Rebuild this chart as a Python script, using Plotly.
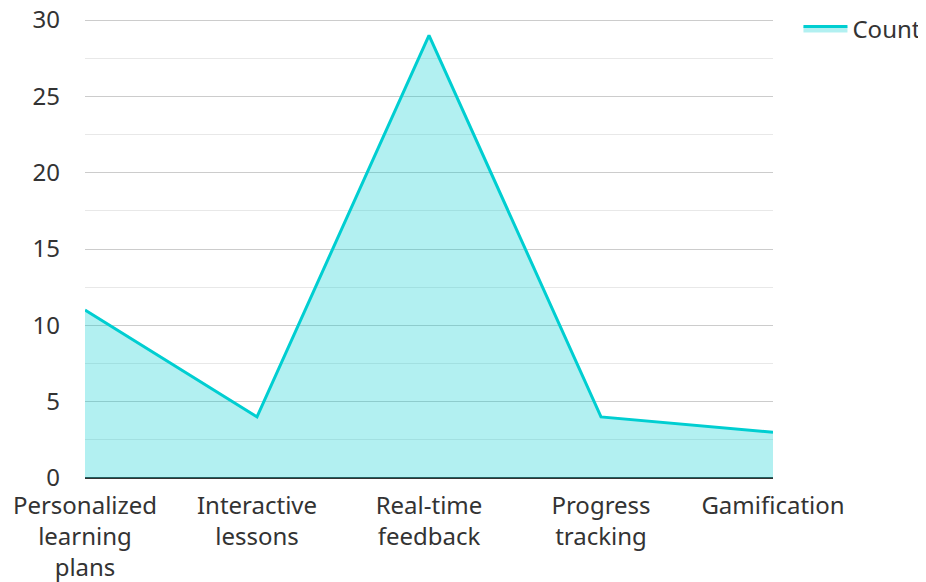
import plotly.graph_objects as go

categories = ["Personalized<br>learning<br>plans", "Interactive<br>lessons", "Real-time<br>feedback", "Progress<br>tracking", "Gamification"]
counts = [11, 4, 29, 4, 3]
series_name = "Count"
y_ticks = [0, 5, 10, 15, 20, 25, 30]

fig = go.Figure()
fig.add_trace(go.Scatter(
    x=categories, y=counts, name=series_name, mode="lines",
    line=dict(color="#00CED1", width=3),
    fill="tozeroy", fillcolor="rgba(0,206,209,0.3)",
))

fig.update_layout(
    width=926, height=574,
    margin=dict(l=77, r=161, t=10, b=104, autoexpand=False),
    plot_bgcolor="white", paper_bgcolor="white",
    font=dict(family="Noto Sans", size=24, color="#333333"),
    showlegend=True,
    legend=dict(x=1.037, y=1.025, xanchor="left", yanchor="top",
                font=dict(size=24, color="#333333"), itemwidth=44,
                bgcolor="rgba(0,0,0,0)"),
    xaxis=dict(range=[0, 4], showgrid=False, zeroline=False,
               showline=False, ticks="", tickfont=dict(size=24),
               ticklabelstandoff=11),
    yaxis=dict(range=[0, 30.131], tickmode="array", tickvals=y_ticks,
               showgrid=True, gridcolor="#cccccc",
               gridwidth=1, zeroline=True, zerolinecolor="#333333", zerolinewidth=2,
               showline=False, ticks="", tickfont=dict(size=24),
               ticklabelstandoff=24, ticklabeloverflow="allow",
               minor=dict(dtick=2.5, showgrid=True, gridcolor="#e8e8e8", gridwidth=1)),
)

fig.write_html("out.html")
